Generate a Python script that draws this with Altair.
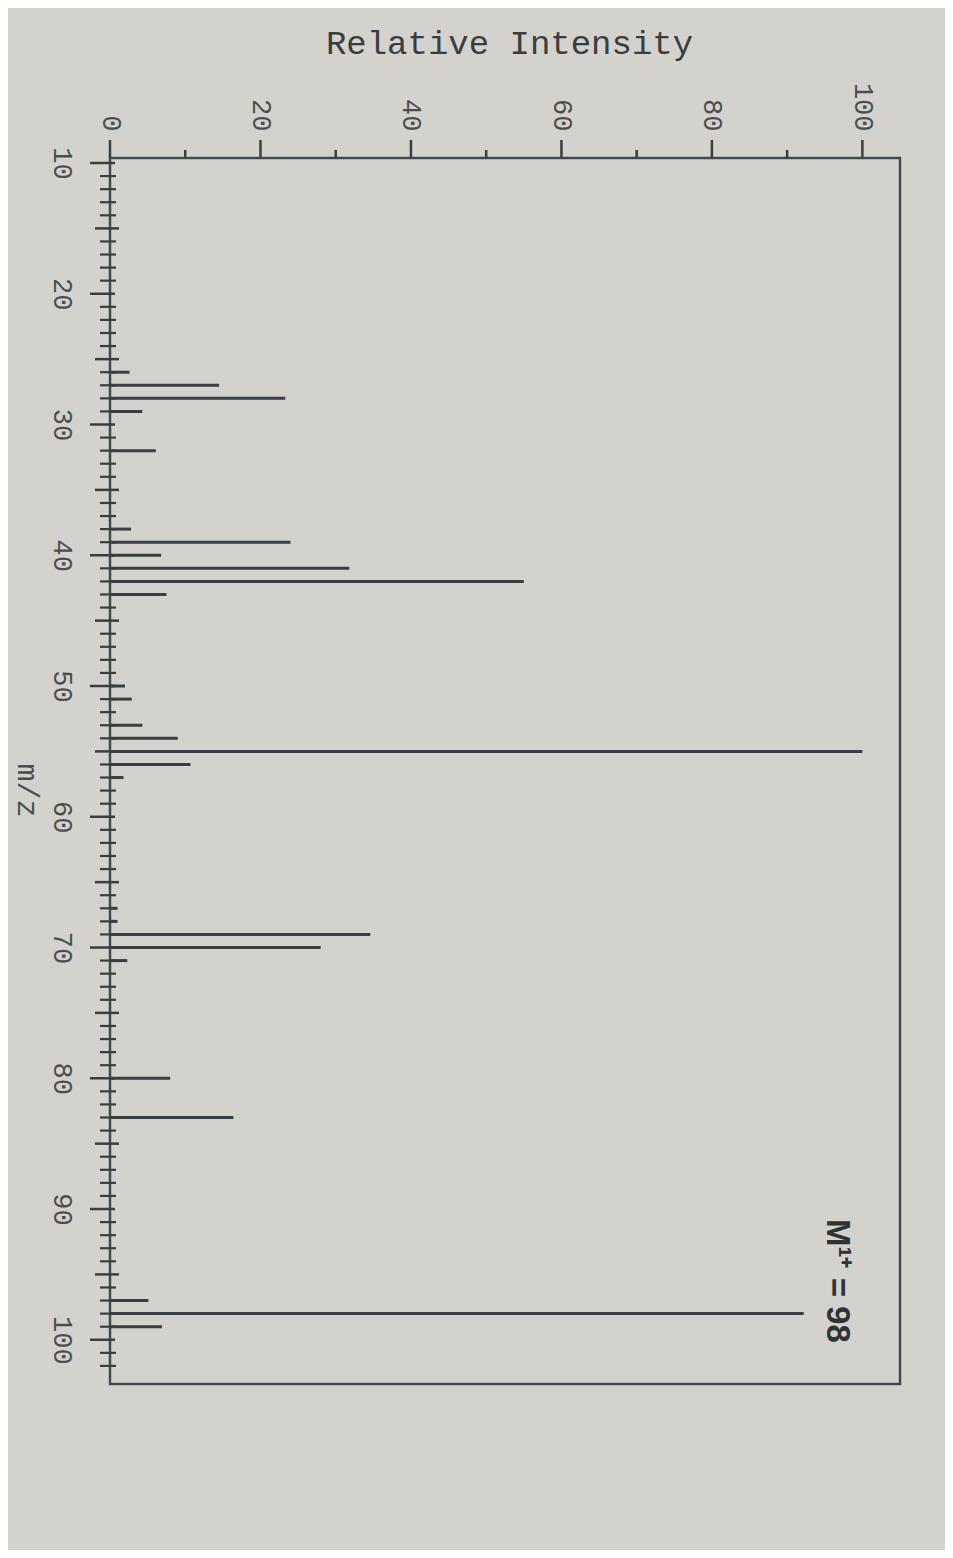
import altair as alt
import pandas as pd

# m/z values and relative intensities
mz = [26, 27, 28, 29, 32, 38, 39, 40, 41, 42, 43, 50, 51, 53, 54, 55, 56, 57,
      67, 68, 69, 70, 71, 80, 83, 97, 98, 99]
intensity = [2.6, 14.5, 23.3, 4.3, 6.1, 2.8, 24, 6.8, 31.8, 55, 7.5, 2, 2.9, 4.3, 9, 100, 10.7, 1.8,
             1, 1, 34.6, 28, 2.3, 8, 16.4, 5.1, 92.2, 6.9]

x_tick_values = list(range(0, 101, 10))
y_tick_values = list(range(10, 103))
annotation = ["M¹⁺ = 98"]

df = pd.DataFrame({"mz": mz, "intensity": intensity})
xt = pd.DataFrame({"intensity": x_tick_values})
yt = pd.DataFrame({"mz": y_tick_values})

W, H = 790, 1226
INK = "#3a3e42"
TXT = "#4a4e50"

x_scale = alt.Scale(domain=[0, 105], nice=False, zero=True)
y_scale = alt.Scale(domain=[10, 103], nice=False, zero=False, reverse=True)

x_axis = alt.Axis(
    orient="top",
    values=x_tick_values,
    labelExpr="datum.value % 20 === 0 ? datum.label : ''",
    labelAngle=90,
    labelAlign="right",
    labelBaseline="middle",
    labelFont="Liberation Mono",
    labelFontSize=27,
    labelColor=TXT,
    labelPadding=27,
    labelFlush=False,
    labelOverlap=False,
    ticks=False,
    tickSize=0,
    domain=False,
    grid=False,
    title="Relative Intensity",
    titleFont="Liberation Mono",
    titleFontSize=34,
    titleFontWeight="normal",
    titleColor="#3a3d3f",
    titleAngle=0,
    titleAlign="center",
    titleBaseline="alphabetic",
    titleX=399,
    titleY=-105,
)

y_axis = alt.Axis(
    orient="left",
    values=y_tick_values,
    labelExpr="datum.value % 10 === 0 ? datum.label : ''",
    labelAngle=90,
    labelAlign="center",
    labelBaseline="top",
    labelFont="Liberation Mono",
    labelFontSize=27,
    labelColor=TXT,
    labelPadding=36,
    labelFlush=False,
    labelOverlap=False,
    ticks=False,
    tickSize=0,
    domain=False,
    grid=False,
    title="m/z",
    titleFont="Liberation Mono",
    titleFontSize=30,
    titleFontWeight="normal",
    titleColor=TXT,
    titleAngle=90,
    titleAlign="center",
    titleBaseline="middle",
    titleX=-84,
    titleY=632,
)

X = alt.X("intensity:Q", scale=x_scale, axis=x_axis)
Y = alt.Y("mz:Q", scale=y_scale, axis=y_axis)

bars = alt.Chart(df).mark_bar(orient="horizontal", size=3, color=INK).encode(x=X, y=Y)

# m/z axis ticks (cross the axis line): tens, fives, units
y_tens = alt.Chart(yt).transform_filter("datum.mz % 10 === 0").mark_rule(
    color=INK, strokeWidth=2.5).encode(y=Y, x=alt.value(-20), x2=alt.value(5))
y_fives = alt.Chart(yt).transform_filter("datum.mz % 5 === 0 && datum.mz % 10 !== 0").mark_rule(
    color=INK, strokeWidth=2.5).encode(y=Y, x=alt.value(-15), x2=alt.value(9))
y_units = alt.Chart(yt).transform_filter("datum.mz % 5 !== 0").mark_rule(
    color=INK, strokeWidth=2.2).encode(y=Y, x=alt.value(-10), x2=alt.value(6))

# intensity axis ticks: long at labelled values, short in between
x_major = alt.Chart(xt).transform_filter("datum.intensity % 20 === 0").mark_rule(
    color=INK, strokeWidth=2.5).encode(x=X, y=alt.value(-18), y2=alt.value(0))
x_minor = alt.Chart(xt).transform_filter("datum.intensity % 20 !== 0").mark_rule(
    color=INK, strokeWidth=2.5).encode(x=X, y=alt.value(-8), y2=alt.value(0))

label = alt.Chart(pd.DataFrame({"label": annotation})).mark_text(
    angle=90, align="left", baseline="middle",
    font="Liberation Sans", fontSize=33, fontWeight="bold", color="#2f3336",
).encode(
    x=alt.value(727),
    y=alt.value(1061),
    text="label:N",
)

chart = alt.layer(bars, y_tens, y_fives, y_units, x_major, x_minor, label).properties(
    width=W,
    height=H,
    autosize=alt.AutoSizeParams(type="none"),
    padding={"left": 102, "top": 150, "right": 45, "bottom": 166},
    background="#d3d2cc",
).configure_view(
    stroke="#45494d",
    strokeWidth=2.5,
)

chart.save("out.html", embed_options={"renderer": "svg", "actions": False})
